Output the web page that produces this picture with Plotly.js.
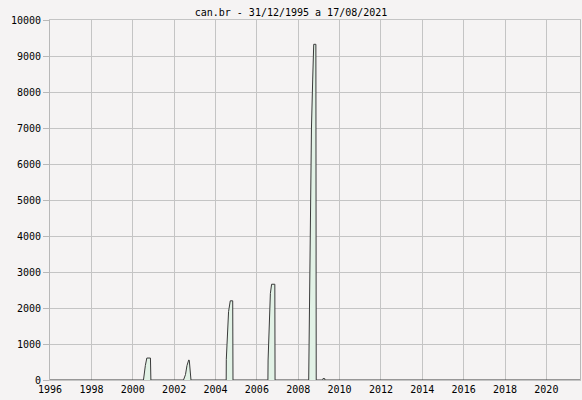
<!DOCTYPE html>
<html>
<head>
<meta charset="utf-8">
<script src="https://cdn.plot.ly/plotly-3.0.1.min.js"></script>
<style>html,body{margin:0;padding:0;background:#f5f3f3;}#chart{width:582px;height:400px;}</style>
</head>
<body>
<div id="chart"></div>
<script>
var dates = [
  "1995-12-31",
  "2000-07-08","2000-08-10","2000-08-25","2000-09-05","2000-11-08","2000-11-16",
  "2002-06-15","2002-07-20","2002-08-15","2002-09-05","2002-09-15","2002-09-25","2002-10-25",
  "2004-07-08","2004-07-10","2004-08-19","2004-09-06","2004-09-18","2004-10-31","2004-11-05",
  "2006-07-15","2006-07-18","2006-08-27","2006-09-13","2006-09-18","2006-11-14","2006-11-18",
  "2008-07-04","2008-07-08","2008-07-29","2008-08-22","2008-09-13","2008-10-01","2008-11-08","2008-11-14",
  "2009-03-10","2009-03-14","2009-04-13","2009-04-16",
  "2021-08-17"
];
var domains = [
  0,
  0,400,590,610,610,0,
  0,150,400,540,555,550,0,
  0,575,1900,2080,2200,2200,0,
  0,555,2400,2640,2660,2660,0,
  0,650,4190,7000,8360,9325,9325,0,
  0,40,40,0,
  0
];
var titleText = "can.br - 31/12/1995 a 17/08/2021";
var xRange = ["1995-12-31", "2021-08-17"];
var yRange = [0, 10000];

var font = {family: "DejaVu Sans Mono, monospace", size: 10, color: "#000"};
Plotly.newPlot("chart", [{
  x: dates, y: domains, type: "scatter", mode: "lines",
  line: {color: "#3a3a3a", width: 1, shape: "linear"},
  fill: "tozeroy", fillcolor: "#e2f2e6", hoverinfo: "x+y"
}], {
  width: 582, height: 400,
  margin: {l: 50, r: 2, t: 20, b: 20, pad: 0},
  paper_bgcolor: "#f5f3f3", plot_bgcolor: "#f5f3f3",
  font: font,
  showlegend: false,
  title: {text: titleText, font: font, x: 0.5, xref: "container", y: 0.97, yref: "container", yanchor: "middle"},
  xaxis: {
    type: "date", range: xRange, tick0: "1996-01-01", dtick: "M24", tickformat: "%Y",
    showgrid: true, gridcolor: "#c4c4c4", gridwidth: 1,
    showline: true, linecolor: "#c4c4c4", mirror: true,
    ticks: "", tickfont: font, zeroline: false, fixedrange: true
  },
  yaxis: {
    range: yRange, dtick: 1000, tick0: 0, tickformat: "d",
    showgrid: true, gridcolor: "#c4c4c4", gridwidth: 1,
    showline: true, linecolor: "#b8b8b8", mirror: true,
    ticks: "outside", ticklen: 6, tickcolor: "#b8b8b8", tickfont: font,
    zeroline: false, fixedrange: true
  }
}, {displayModeBar: false, staticPlot: true});
</script>
</body>
</html>
